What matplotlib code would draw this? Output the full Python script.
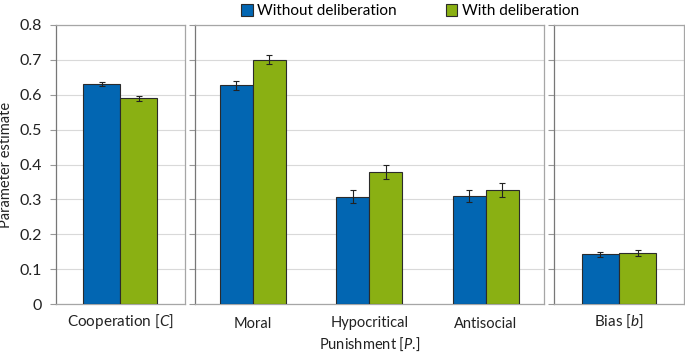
import matplotlib
matplotlib.use("Agg")
import matplotlib.pyplot as plt
import numpy as np

plt.rcParams['font.family'] = ['Lato', 'DejaVu Sans']
plt.rcParams['mathtext.fontset'] = 'custom'
plt.rcParams['mathtext.it'] = 'Lato:italic'
plt.rcParams['mathtext.rm'] = 'Lato'

series_names = ["Without deliberation", "With deliberation"]
colors = ["#0266B2", "#8AB013"]

coop_labels = ["Cooperation [$C$]"]
coop_without = [0.630]
coop_with = [0.590]
coop_err_without = [0.006]
coop_err_with = [0.007]

pun_labels = ["Moral", "Hypocritical", "Antisocial"]
pun_without = [0.627, 0.308, 0.310]
pun_with = [0.700, 0.378, 0.327]
pun_err_without = [0.013, 0.018, 0.018]
pun_err_with = [0.013, 0.020, 0.019]
pun_xlabel = "Punishment [$P$.]"

bias_labels = ["Bias [$b$]"]
bias_without = [0.142]
bias_with = [0.147]
bias_err_without = [0.007]
bias_err_with = [0.008]

yticks = [0, 0.1, 0.2, 0.3, 0.4, 0.5, 0.6, 0.7, 0.8]
ytick_labels = ["0", "0.1", "0.2", "0.3", "0.4", "0.5", "0.6", "0.7", "0.8"]

W, H = 685, 352
fig = plt.figure(figsize=(W / 100, H / 100), dpi=100)

def rect(x0, x1, ytop=25, ybot=304):
    return [x0 / W, 1 - ybot / H, (x1 - x0) / W, (ybot - ytop) / H]

ax1 = fig.add_axes(rect(55.5, 185))
ax2 = fig.add_axes(rect(194.5, 544))
ax3 = fig.add_axes(rect(554, 684))

bw = 0.285
panels = [
    (ax1, coop_labels, coop_without, coop_with, coop_err_without, coop_err_with),
    (ax2, pun_labels, pun_without, pun_with, pun_err_without, pun_err_with),
    (ax3, bias_labels, bias_without, bias_with, bias_err_without, bias_err_with),
]
handles = None
for i, (ax, labs, a, b, ea, eb) in enumerate(panels):
    x = np.arange(len(labs))
    h1 = ax.bar(x - bw / 2, a, bw, color=colors[0], edgecolor="#2b2b2b", linewidth=0.8, zorder=3,
                yerr=ea, error_kw=dict(ecolor="#222222", elinewidth=0.8, capsize=2.2, capthick=0.8, zorder=4))
    h2 = ax.bar(x + bw / 2, b, bw, color=colors[1], edgecolor="#2b2b2b", linewidth=0.8, zorder=3,
                yerr=eb, error_kw=dict(ecolor="#222222", elinewidth=0.8, capsize=2.2, capthick=0.8, zorder=4))
    if handles is None:
        handles = [h1, h2]
    ax.set_xlim(-0.5, len(labs) - 0.5)
    ax.set_ylim(0, 0.8)
    ax.set_yticks(yticks)
    ax.grid(axis='y', color="#d9d9d9", linewidth=0.8, zorder=0)
    ax.set_axisbelow(True)
    ax.set_xticks(x)
    ax.set_xticklabels(labs, fontsize=11 if i != 1 else 10.5, color="#222222")
    ax.tick_params(axis='x', length=0, pad=6 if i != 1 else 9)
    ax.tick_params(axis='y', direction='out', length=4, color="#999999", width=0.8)
    for s in ax.spines.values():
        s.set_color("#a6a6a6")
        s.set_linewidth(0.9)
    ax.spines['left'].set_color("#777777")
    if i == 0:
        ax.set_yticklabels(ytick_labels, fontsize=11.5, color="#222222")
        ax.tick_params(axis='y', pad=6)
        ax.set_ylabel("Parameter estimate", fontsize=10.5, color="#222222")
        ax.yaxis.set_label_coords((13 - 55.5) / 129.5, 0.5)
    else:
        ax.set_yticklabels([])

ax2.set_xlabel(pun_xlabel, fontsize=10.5, color="#222222", labelpad=4)

fig.legend(handles, series_names, loc="upper center", bbox_to_anchor=(410 / W, 1.005), ncol=2,
           frameon=False, fontsize=11, handlelength=0.75, handleheight=0.75, handletextpad=0.3,
           columnspacing=3.2, borderaxespad=0)

fig.savefig("out.png", dpi=100)
